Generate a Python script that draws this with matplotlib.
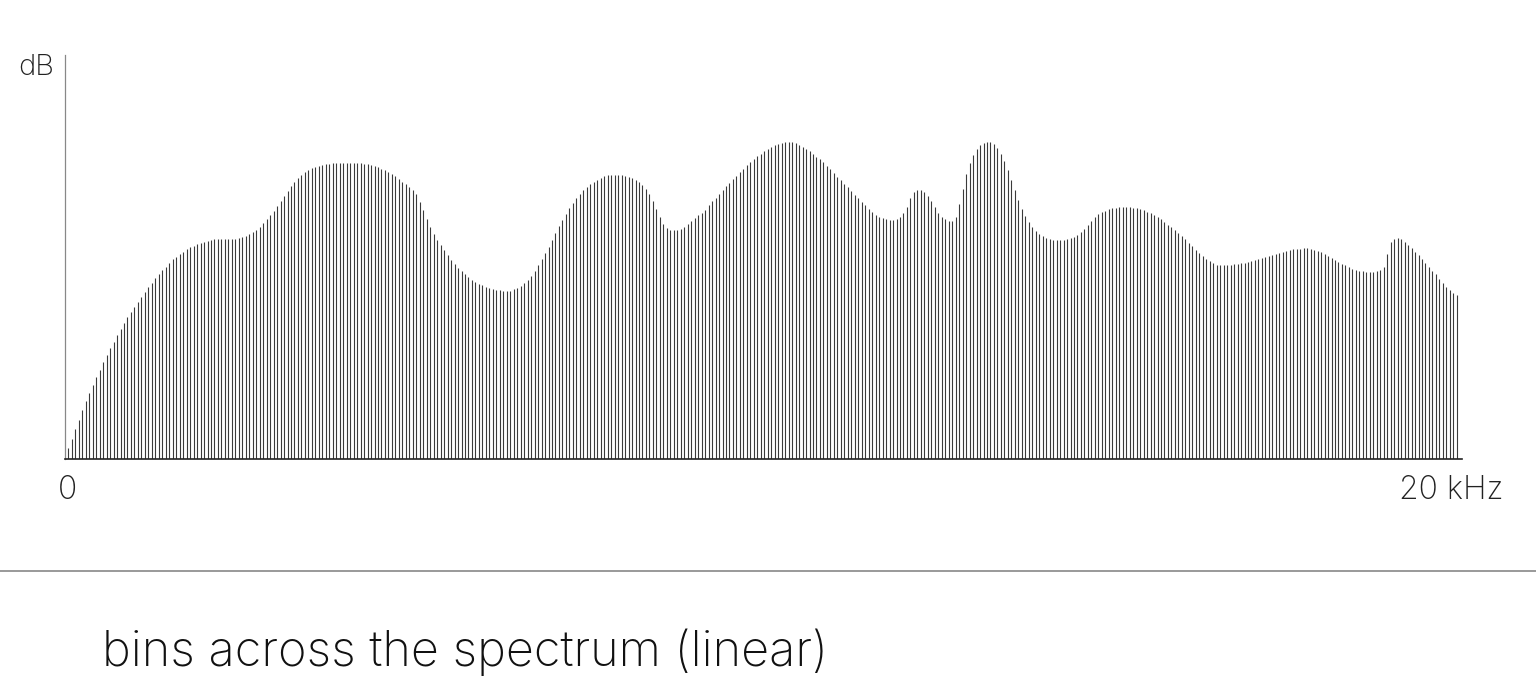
import matplotlib.pyplot as plt
from matplotlib.lines import Line2D
import numpy as np

plt.rcParams['font.family'] = ['Inter', 'DejaVu Sans']

# level of each bin (0 = baseline, 404 = top of the axis)
levels = [
    11, 20, 30, 39, 49, 58, 66, 74, 82, 89,
    97, 104, 111, 117, 124, 130, 136, 142, 147, 152,
    157, 162, 167, 172, 176, 181, 185, 189, 192, 196,
    200, 202, 205, 207, 210, 212, 213, 215, 216, 217,
    218, 219, 220, 220, 220, 220, 220, 220, 220, 221,
    222, 223, 225, 227, 229, 232, 236, 240, 244, 248,
    253, 258, 263, 268, 273, 277, 281, 284, 287, 289,
    291, 292, 293, 294, 295, 295, 296, 296, 296, 296,
    296, 296, 296, 296, 296, 295, 295, 294, 293, 292,
    290, 289, 287, 285, 283, 280, 277, 275, 272, 269,
    265, 257, 249, 240, 232, 225, 219, 214, 209, 204,
    199, 195, 191, 188, 185, 182, 179, 177, 175, 174,
    172, 171, 170, 169, 169, 168, 168, 168, 170, 171,
    173, 176, 179, 183, 188, 194, 200, 206, 212, 219,
    226, 233, 239, 245, 251, 256, 261, 265, 269, 272,
    275, 277, 279, 281, 283, 284, 284, 284, 284, 284,
    283, 282, 281, 279, 277, 274, 270, 265, 258, 250,
    242, 235, 231, 229, 229, 229, 230, 232, 235, 238,
    241, 244, 246, 249, 254, 258, 261, 265, 269, 273,
    276, 280, 283, 287, 290, 294, 297, 300, 303, 305,
    308, 310, 312, 314, 315, 316, 317, 317, 317, 316,
    314, 312, 310, 308, 305, 302, 300, 297, 293, 290,
    286, 282, 279, 275, 272, 268, 264, 261, 257, 254,
    250, 247, 244, 242, 241, 240, 239, 239, 240, 242,
    246, 252, 261, 267, 269, 269, 267, 263, 258, 252,
    246, 242, 240, 238, 238, 242, 255, 270, 285, 296,
    304, 310, 314, 316, 317, 317, 315, 311, 305, 298,
    289, 279, 269, 259, 250, 243, 237, 232, 228, 225,
    223, 221, 220, 219, 219, 219, 219, 220, 221, 222,
    224, 227, 230, 234, 238, 242, 245, 247, 248, 250,
    251, 251, 252, 252, 252, 252, 251, 251, 250, 249,
    247, 246, 244, 242, 240, 237, 234, 232, 229, 226,
    223, 220, 216, 213, 209, 206, 203, 200, 198, 196,
    194, 194, 194, 194, 194, 195, 195, 196, 196, 197,
    198, 199, 200, 201, 202, 203, 204, 205, 206, 207,
    208, 209, 210, 210, 210, 211, 211, 210, 209, 208,
    207, 205, 203, 201, 199, 197, 195, 194, 192, 190,
    189, 188, 188, 187, 187, 187, 188, 189, 192, 205,
    217, 220, 221, 220, 217, 214, 211, 207, 204, 200,
    196, 192, 188, 185, 180, 176, 172, 169, 166, 164,
]
x_start_label = "0"
x_end_label = "20 kHz"
y_label = "dB"
caption = "bins across the spectrum (linear)"

W, H = 1536, 695
fig = plt.figure(figsize=(W / 100, H / 100), dpi=100)
ax = fig.add_axes([65 / W, 236 / H, 1397 / W, 404 / H])

bins = np.arange(len(levels))
ax.vlines(bins, 0, levels, colors="#3a3a3a", linewidth=0.8)
ax.set_xlim(-0.95, 400.5)
ax.set_ylim(0, 404)

ax.spines["top"].set_visible(False)
ax.spines["right"].set_visible(False)
ax.spines["left"].set_color("#888888")
ax.spines["left"].set_linewidth(0.9)
ax.spines["bottom"].set_color("#222222")
ax.spines["bottom"].set_linewidth(1.2)
ax.set_xticks([])
ax.set_yticks([])


def px(x, y):
    return x / W, 1 - y / H


fig.text(*px(67, 499), x_start_label, ha="center", va="baseline",
         fontsize=23, fontweight="light", color="#222222")
fig.text(*px(1503, 499), x_end_label, ha="right", va="baseline",
         fontsize=23, fontweight="light", color="#222222")
fig.text(*px(54, 75), y_label, ha="right", va="baseline",
         fontsize=21, fontweight="light", color="#222222")

# separator line above the caption
fig.add_artist(Line2D([0, 1], [1 - 571 / H, 1 - 571 / H], color="#888888",
                      linewidth=1.2))
fig.text(*px(102, 666), caption, ha="left", va="baseline",
         fontsize=35, fontweight="light", color="#111111")

fig.savefig("out.png", dpi=100)
